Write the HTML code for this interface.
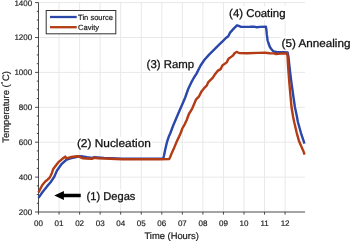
<!DOCTYPE html>
<html><head><meta charset="utf-8"><title>Temperature profile</title>
<style>html,body{margin:0;padding:0;background:#fff}svg{display:block}</style></head>
<body>
<svg width="350" height="241" viewBox="0 0 350 241" text-rendering="geometricPrecision">
<defs><filter id="soft" x="-2%" y="-2%" width="104%" height="104%"><feGaussianBlur stdDeviation="0.38"/></filter></defs>
<rect width="350" height="241" fill="#fff"/>
<g filter="url(#soft)">
<path d="M59.05 2.60 V212.00 M79.60 2.60 V212.00 M100.15 2.60 V212.00 M120.70 2.60 V212.00 M141.25 2.60 V212.00 M161.80 2.60 V212.00 M182.35 2.60 V212.00 M202.90 2.60 V212.00 M223.45 2.60 V212.00 M244.00 2.60 V212.00 M264.55 2.60 V212.00 M285.10 2.60 V212.00 M38.50 177.10 H305.00 M38.50 142.20 H305.00 M38.50 107.30 H305.00 M38.50 72.40 H305.00 M38.50 37.50 H305.00 M38.50 2.60 H305.00" stroke="#e8e8e8" stroke-width="1" fill="none"/>
<path d="M38.50 2.60 V212.00 H305 M38.50 212.00 h-3.4 M38.50 177.10 h-3.4 M38.50 142.20 h-3.4 M38.50 107.30 h-3.4 M38.50 72.40 h-3.4 M38.50 37.50 h-3.4 M38.50 2.60 h-3.4 M38.50 203.28 h-1.7 M38.50 194.55 h-1.7 M38.50 185.82 h-1.7 M38.50 168.38 h-1.7 M38.50 159.65 h-1.7 M38.50 150.93 h-1.7 M38.50 133.47 h-1.7 M38.50 124.75 h-1.7 M38.50 116.03 h-1.7 M38.50 98.58 h-1.7 M38.50 89.85 h-1.7 M38.50 81.12 h-1.7 M38.50 63.68 h-1.7 M38.50 54.95 h-1.7 M38.50 46.22 h-1.7 M38.50 28.78 h-1.7 M38.50 20.05 h-1.7 M38.50 11.32 h-1.7 M38.50 212.00 v2.6 M59.05 212.00 v2.6 M79.60 212.00 v2.6 M100.15 212.00 v2.6 M120.70 212.00 v2.6 M141.25 212.00 v2.6 M161.80 212.00 v2.6 M182.35 212.00 v2.6 M202.90 212.00 v2.6 M223.45 212.00 v2.6 M244.00 212.00 v2.6 M264.55 212.00 v2.6 M285.10 212.00 v2.6" stroke="#404040" stroke-width="0.95" fill="none"/>
<g font-family="'Liberation Sans', sans-serif" font-size="8" fill="#222" stroke="#222" stroke-width="0.18">
<text x="32.2" y="214.90" text-anchor="end">200</text>
<text x="32.2" y="180.00" text-anchor="end">400</text>
<text x="32.2" y="145.10" text-anchor="end">600</text>
<text x="32.2" y="110.20" text-anchor="end">800</text>
<text x="32.2" y="75.30" text-anchor="end">1000</text>
<text x="32.2" y="40.40" text-anchor="end">1200</text>
<text x="32.2" y="5.50" text-anchor="end">1400</text>
<text x="38.50" y="226.3" text-anchor="middle">00</text>
<text x="59.05" y="226.3" text-anchor="middle">01</text>
<text x="79.60" y="226.3" text-anchor="middle">02</text>
<text x="100.15" y="226.3" text-anchor="middle">03</text>
<text x="120.70" y="226.3" text-anchor="middle">04</text>
<text x="141.25" y="226.3" text-anchor="middle">05</text>
<text x="161.80" y="226.3" text-anchor="middle">06</text>
<text x="182.35" y="226.3" text-anchor="middle">07</text>
<text x="202.90" y="226.3" text-anchor="middle">08</text>
<text x="223.45" y="226.3" text-anchor="middle">09</text>
<text x="244.00" y="226.3" text-anchor="middle">10</text>
<text x="264.55" y="226.3" text-anchor="middle">11</text>
<text x="285.10" y="226.3" text-anchor="middle">12</text>
</g>
<g font-family="'Liberation Sans', sans-serif" font-size="9.4" fill="#222" stroke="#222" stroke-width="0.22">
<text x="171.6" y="238.6" text-anchor="middle">Time (Hours)</text>
<text transform="translate(8.9 106.9) rotate(-90)" text-anchor="middle">Temperature (<tspan font-size="5.5" dy="-4.4" dx="0.3">°</tspan><tspan dy="4.4" dx="0.9">C)</tspan></text>
</g>
<path d="M38.5 197.9 L42.2 192.5 L47.0 186.4 L50.6 182.2 L54.3 176.8 L57.0 170.5 L61.8 163.8 L66.1 160.0 L69.0 158.9 L71.5 158.2 L76.3 157.0 L79.0 156.4 L81.1 156.2 L84.0 156.6 L87.0 157.2 L92.0 158.0 L94.4 157.2 L104.0 157.9 L122.0 158.7 L140.0 158.7 L163.2 158.8 L163.9 156.0 L165.2 149.8 L167.0 142.0 L168.8 136.6 L170.2 133.5 L173.2 125.5 L176.8 117.0 L179.9 109.8 L181.8 105.5 L185.2 97.5 L188.2 89.0 L191.3 82.4 L194.3 77.0 L196.4 73.9 L200.6 65.5 L204.3 60.0 L209.1 54.6 L213.9 49.8 L218.6 45.2 L222.3 41.7 L225.9 38.0 L228.3 36.2 L230.1 32.6 L233.7 28.6 L237.0 25.3 L238.7 25.9 L241.0 26.9 L250.0 26.8 L254.0 26.6 L257.0 27.3 L260.0 26.9 L265.9 26.8 L266.4 30.0 L266.8 34.4 L267.6 40.5 L268.4 43.0 L270.0 47.2 L271.5 49.3 L273.0 51.0 L275.0 51.8 L277.3 52.2 L283.0 52.3 L287.6 52.4 L288.6 58.0 L289.6 68.0 L291.4 82.4 L293.3 96.0 L294.9 107.0 L296.7 115.5 L297.9 122.0 L300.9 132.8 L304.5 143.7" stroke="#2a46aa" stroke-width="2.4" fill="none" stroke-linejoin="round" stroke-linecap="butt"/>
<path d="M38.5 192.5 L40.5 188.5 L42.2 185.2 L44.0 183.0 L45.8 181.0 L47.5 179.7 L49.4 178.0 L50.5 176.0 L51.8 173.2 L53.4 168.7 L58.2 162.4 L62.4 158.8 L65.2 156.6 L66.4 158.3 L69.0 157.6 L71.5 157.0 L75.0 156.5 L78.1 156.2 L81.1 157.6 L83.0 158.3 L86.0 158.5 L92.0 158.8 L94.4 157.7 L98.0 158.2 L104.0 158.5 L122.0 159.3 L140.0 159.3 L160.0 159.3 L169.2 159.1 L170.2 157.0 L171.8 152.9 L174.3 147.4 L177.3 140.2 L179.1 136.6 L180.6 133.3 L182.3 128.5 L184.7 124.3 L186.7 120.0 L188.9 114.0 L191.9 109.2 L193.5 105.5 L196.1 99.3 L199.1 96.3 L201.5 91.4 L203.9 88.4 L206.9 85.4 L208.1 82.4 L212.9 77.6 L215.2 73.9 L217.6 70.9 L220.6 69.1 L222.4 65.5 L226.7 62.4 L228.5 58.8 L231.5 56.6 L233.3 55.2 L234.5 53.2 L236.5 51.9 L238.0 52.5 L239.5 53.1 L247.0 53.2 L258.0 52.9 L265.0 52.8 L270.0 53.2 L274.0 53.4 L276.0 54.0 L278.5 53.9 L280.0 53.5 L287.1 53.4 L287.6 57.0 L287.8 61.3 L288.2 68.0 L289.3 82.4 L290.4 95.0 L291.5 107.0 L293.1 116.7 L294.3 122.5 L296.7 132.8 L299.1 141.3 L303.3 150.9 L304.6 154.6" stroke="#b33b12" stroke-width="2.4" fill="none" stroke-linejoin="round" stroke-linecap="butt"/>
<rect x="46.2" y="10.5" width="69.6" height="23.3" fill="#fff" stroke="#333" stroke-width="1"/>
<path d="M50 17 H76.7" stroke="#2a46aa" stroke-width="2.3"/>
<path d="M50 27.2 H76.7" stroke="#b33b12" stroke-width="2.3"/>
<g font-family="'Liberation Sans', sans-serif" font-size="7.55" fill="#1c1c1c" stroke="#1c1c1c" stroke-width="0.2">
<text x="78.1" y="20.3">Tin source</text>
<text x="78.1" y="30.3">Cavity</text>
</g>
<path d="M54.3 195.5 L63.9 191 V193.8 H80.7 V197.3 H63.9 V200 Z" fill="#000"/>
<g font-family="'Liberation Sans', sans-serif" font-size="11.3" fill="#111" stroke="#111" stroke-width="0.28">
<rect x="85.6" y="189.5" width="51.0" height="14.5" fill="#fff" stroke="none"/>
<text x="86.6" y="200.0" textLength="48.8" lengthAdjust="spacingAndGlyphs">(1) Degas</text>
<rect x="75.9" y="136.9" width="76.2" height="12.0" fill="#fff" stroke="none"/>
<text x="76.9" y="147.4" textLength="74.0" lengthAdjust="spacingAndGlyphs">(2) Nucleation</text>
<rect x="145.6" y="57.3" width="49.7" height="14.5" fill="#fff" stroke="none"/>
<text x="146.6" y="67.8" textLength="47.5" lengthAdjust="spacingAndGlyphs">(3) Ramp</text>
<rect x="228.1" y="6.0" width="58.6" height="14.5" fill="#fff" stroke="none"/>
<text x="229.1" y="16.5" textLength="56.4" lengthAdjust="spacingAndGlyphs">(4) Coating</text>
<rect x="280.6" y="36.1" width="71.0" height="14.5" fill="#fff" stroke="none"/>
<text x="281.6" y="46.6" textLength="68.8" lengthAdjust="spacingAndGlyphs">(5) Annealing</text>
</g>
</g>
</svg>
</body></html>
